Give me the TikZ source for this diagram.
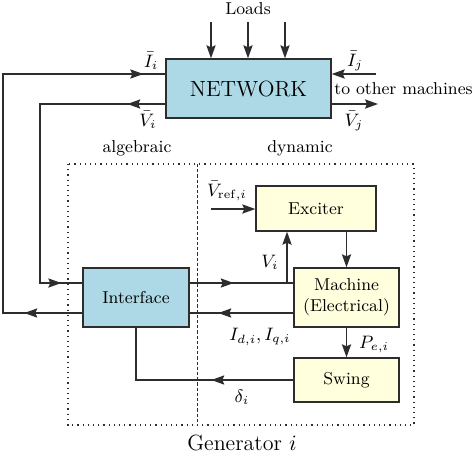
\documentclass[tikz,border=0pt]{standalone}
\usetikzlibrary{arrows.meta,decorations.markings}
\definecolor{netblue}{RGB}{173,216,230}
\definecolor{dynyellow}{RGB}{255,255,222}
\definecolor{linegray}{RGB}{45,45,45}
\begin{document}
\begin{tikzpicture}[x=0.5pt,y=-0.5pt,
  every node/.style={font=\fontsize{8.6}{10.5}\selectfont},
  blk/.style={draw=linegray,line width=0.7pt,inner sep=0pt,align=center},
  bluebox/.style={blk,fill=netblue},
  yelbox/.style={blk,fill=dynyellow},
  wire/.style={draw=linegray,line width=0.7pt},
  tip/.style={-{Stealth[length=6.5pt,width=4.6pt,inset=1pt]}},
  midarrow/.style={postaction={decorate,decoration={markings,
     mark=at position #1 with {\arrow{Stealth[length=6.5pt,width=4.6pt,inset=1pt]}}}}},
  lbl/.style={inner sep=0.5pt}]
\useasboundingbox (0,0) rectangle (474,456);

% dotted frame and divider
\draw[dotted,line width=0.6pt,linegray] (68,164) rectangle (414,425);
\draw[dash pattern=on 1.6pt off 1pt,line width=0.5pt,linegray] (197,164) -- (197,425);

% blocks
\node[bluebox,minimum width=82.5pt,minimum height=29.5pt,font=\fontsize{11}{13}\selectfont] (net) at (248.5,88.5) {NETWORK};
\node[bluebox,minimum width=53pt,minimum height=29.5pt] (intf) at (136,297.5) {Interface};
\node[yelbox,minimum width=60pt,minimum height=22.5pt] (exc) at (316,208.5) {Exciter};
\node[yelbox,minimum width=52.5pt,minimum height=29.5pt] (mach) at (346.5,297.5) {Machine\\(Electrical)};
\node[yelbox,minimum width=52.5pt,minimum height=22pt] (swing) at (346.5,380) {Swing};

% coordinates
\coordinate (ld1) at (211,22);
\coordinate (ld2) at (248,22);
\coordinate (ld3) at (285,22);
\coordinate (yI) at (0,74);
\coordinate (yV) at (0,104);
\coordinate (yU) at (0,283);
\coordinate (yL) at (0,313);
\coordinate (xo) at (3,0);
\coordinate (xi) at (40,0);
\coordinate (ij) at (376,74);
\coordinate (vj) at (378,104);
\coordinate (vref) at (211,209);
\coordinate (br) at (287,283);
\coordinate (dl) at (136,380);

% loads
\node (loads) at (248,9) {Loads};
\draw[wire,tip] (ld1) -- (ld1 |- net.north);
\draw[wire,tip] (ld2) -- (ld2 |- net.north);
\draw[wire,tip] (ld3) -- (ld3 |- net.north);

% network <-> interface loops
\draw[wire,midarrow=29pt,midarrow=-11pt] (intf.west |- yL) -- (xo |- yL) -- (xo |- yI) -- (net.west |- yI);
\draw[wire,midarrow=19pt,midarrow=-10.5pt] (net.west |- yV) -- (xi |- yV) -- (xi |- yU) -- (intf.west |- yU);

% other machines
\draw[wire,tip] (ij) -- (net.east |- ij);
\draw[wire,tip] (net.east |- vj) -- (vj);

% interface <-> machine
\draw[wire,midarrow=22pt] (intf.east |- yU) -- (mach.west |- yU);
\draw[wire,midarrow=37.5pt] (mach.west |- yL) -- (intf.east |- yL);
\draw[wire,tip] (br) -- (br |- exc.south);

% dynamic chain
\draw[wire,tip] (vref) -- (exc.west |- vref);
\draw[wire,tip] (exc.south -| mach.north) -- (mach.north);
\draw[wire,tip] (mach.south) -- (swing.north);
\draw[wire,midarrow=41pt] (swing.west) -- (dl) -- (intf.south);

% labels
\node[lbl] at (151,61) {$\bar I_i$};
\node[lbl] at (148,120) {$\bar V_i$};
\node[lbl] at (355,61) {$\bar I_j$};
\node[lbl] at (354,121) {$\bar V_j$};
\node[lbl,anchor=east] at (474,89) {to other machines};
\node at (137,148) {algebraic};
\node at (300,148) {dynamic};
\node[lbl] at (227,191) {$\bar V_{\mathrm{ref},i}$};
\node[lbl] at (270,262) {$V_i$};
\node[lbl] at (260,337) {$I_{d,i}, I_{q,i}$};
\node[lbl] at (374,345) {$P_{e,i}$};
\node[lbl] at (242,397) {$\delta_i$};
\node[font=\fontsize{11}{13}\selectfont] at (242,443) {Generator $i$};
\end{tikzpicture}
\end{document}
